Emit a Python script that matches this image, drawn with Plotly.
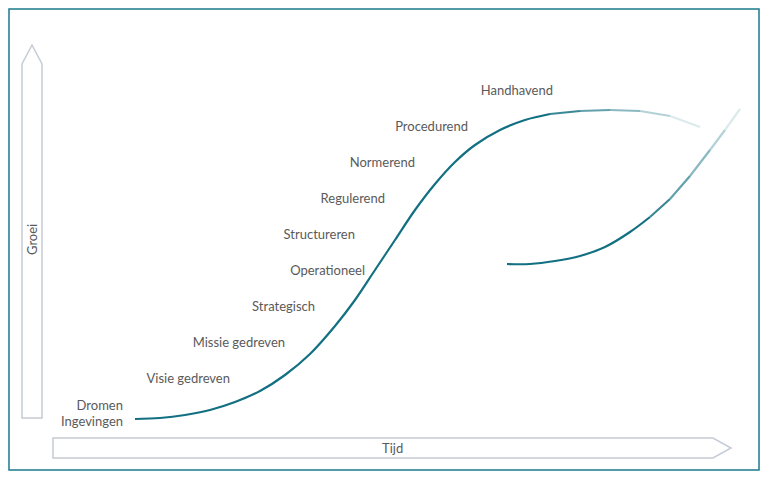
import plotly.graph_objects as go

# curve 1 (S-curve), pixel-like coordinates
c1_x = [135, 160, 185, 210, 235, 260, 285, 310, 335, 355, 375, 395, 415, 435, 455, 475, 500, 525, 550, 580, 610, 640, 670, 700]
c1_y = [419, 418, 415, 410, 402, 391, 375, 354, 326, 300, 270, 240, 210, 184, 162, 145, 130, 120, 114, 111, 110, 111, 116, 127]
# curve 2 (new growth)
c2_x = [507, 530, 555, 580, 605, 630, 650, 670, 690, 710, 725, 740]
c2_y = [264, 264, 261, 256, 247, 232, 217, 199, 176, 150, 130, 109]

labels = ["Dromen", "Ingevingen", "Visie gedreven", "Missie gedreven", "Strategisch",
          "Operationeel", "Structureren", "Regulerend", "Normerend", "Procedurend", "Handhavend"]
label_x = [123, 123, 230, 285, 315, 365, 355, 385, 415, 468, 553]
label_y = [407, 423, 380, 344, 308, 272, 236, 200, 164, 128, 92]

teal = (18, 112, 130)
def col(a):
    return f"rgba({teal[0]},{teal[1]},{teal[2]},{a:.3f})"

fig = go.Figure()

def add_curve(xs, ys, fade_idx):
    fig.add_trace(go.Scatter(x=xs[:fade_idx + 1], y=ys[:fade_idx + 1], mode="lines",
                             line=dict(color=col(1), width=2.2, shape="spline"),
                             hoverinfo="skip", showlegend=False))
    n = len(xs)
    m = n - 1 - fade_idx
    for k, i in enumerate(range(fade_idx, n - 1)):
        a = 1.0 - 0.85 * (k + 1) / m
        fig.add_trace(go.Scatter(x=xs[i:i+2], y=ys[i:i+2], mode="lines",
                                 line=dict(color=col(a), width=2.2), hoverinfo="skip",
                                 showlegend=False))

add_curve(c1_x, c1_y, 18)
add_curve(c2_x, c2_y, 6)

fig.add_trace(go.Scatter(x=label_x, y=label_y, mode="text", text=labels,
                         textposition="middle left",
                         textfont=dict(family="Lato", size=13, color="#5a5a5a"),
                         hoverinfo="skip", showlegend=False))

shapes = [
    dict(type="rect", x0=9, y0=9, x1=759, y1=470, line=dict(color="#1a7a8a", width=1.5)),
    dict(type="path", path="M22,418 L22,64 L32,45 L42,64 L42,418 Z",
         line=dict(color="#c5ccd5", width=1.5)),
    dict(type="path", path="M53,438 L713,438 L731,448 L713,458 L53,458 Z",
         line=dict(color="#c5ccd5", width=1.5)),
]
fig.update_layout(
    shapes=shapes,
    annotations=[
        dict(x=32, y=240, text="Groei", textangle=-90, showarrow=False,
             font=dict(family="Lato", size=13, color="#5a5a5a"), xref="x", yref="y"),
        dict(x=392, y=448, text="Tijd", showarrow=False,
             font=dict(family="Lato", size=13, color="#5a5a5a"), xref="x", yref="y"),
    ],
    width=752, height=464, margin=dict(l=0, r=0, t=0, b=0),
    plot_bgcolor="white", paper_bgcolor="white",
    xaxis=dict(range=[8, 760], visible=False, fixedrange=True),
    yaxis=dict(range=[472, 8], visible=False, fixedrange=True),
)
fig.write_html("out.html")
